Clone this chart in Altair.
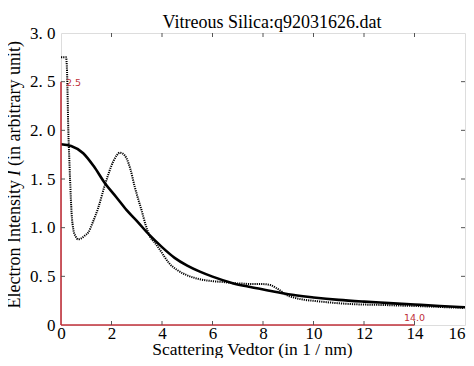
import altair as alt
import pandas as pd

# ---- data ----
solid_x = [0, 0.4, 0.88, 1.3, 1.74, 2.2, 2.6, 3.0, 3.5, 4.0, 4.5, 5.0, 5.5, 6.0, 6.8,
           7.5, 8.2, 9.0, 10, 11, 12, 13, 14, 15, 16]
solid_y = [1.857, 1.84, 1.765, 1.63, 1.456, 1.31, 1.18, 1.07, 0.925, 0.80, 0.69, 0.61,
           0.548, 0.497, 0.43, 0.39, 0.355, 0.315, 0.283, 0.258, 0.24, 0.225, 0.21, 0.195, 0.182]

dot_x = [0, 0.2, 0.24, 0.29, 0.33, 0.36, 0.42, 0.49, 0.58, 0.68, 0.8, 0.95, 1.08, 1.25,
         1.47, 1.74, 2.07, 2.2, 2.33, 2.45, 2.6, 2.75, 2.92, 3.05, 3.19, 3.35, 3.52, 3.7,
         3.9, 4.1, 4.3, 4.6, 5.0, 5.5, 6.0, 6.5, 6.8, 7.2, 7.6, 8.0, 8.3, 8.52, 8.7, 8.85,
         9.0, 9.18, 9.5, 10.1, 10.7, 11.42, 12.0, 12.73, 13.4, 14.06, 15.0, 15.97]
dot_y = [2.75, 2.75, 2.6, 2.0, 1.7, 1.49, 1.15, 0.98, 0.91, 0.88, 0.89, 0.92, 0.95, 1.05,
         1.20, 1.44, 1.68, 1.74, 1.77, 1.76, 1.71, 1.60, 1.42, 1.30, 1.18, 1.03, 0.91, 0.85,
         0.78, 0.70, 0.63, 0.565, 0.51, 0.47, 0.45, 0.44, 0.43, 0.425, 0.42, 0.42, 0.41, 0.38,
         0.35, 0.32, 0.30, 0.285, 0.265, 0.246, 0.23, 0.216, 0.21, 0.206, 0.20, 0.195, 0.185,
         0.175]

x_ticks = [0, 2, 4, 6, 8, 10, 12, 14, 16]
y_ticks = [0, 0.5, 1.0, 1.5, 2.0, 2.5, 3.0]
x_inner_ticks = [2, 4, 6, 8, 10, 12, 14]
y_inner_ticks = [0.5, 1.0, 1.5, 2.0, 2.5]

red_marker_y = 2.5
red_marker_x = 14.0

chart_title = "Vitreous Silica:q92031626.dat"
x_title = "Scattering Vedtor (in 1 / nm)"
y_title_parts = ["Electron Intensity", "I", "(in arbitrary unit)"]

# ---- styling ----
W, H = 404, 292
FONT = "Liberation Serif"
FRAME = "#555555"
RED = "#c0303a"
TFS = 18  # title font size

xs = alt.Scale(domain=[0, 16], nice=False, zero=False)
ys = alt.Scale(domain=[0, 3], nice=False, zero=False)

x_axis = alt.Axis(values=x_ticks, ticks=False, tickSize=0, domain=False, grid=False,
                  labelFont=FONT, labelFontSize=17, labelColor="black", labelPadding=0,
                  labelFlush=False, labelOverlap=False,
                  labelAlign=alt.expr("datum.value == 16 ? 'right' : 'center'"),
                  title=x_title, titleFont=FONT, titleFontSize=17.5,
                  titleFontWeight="normal", titleColor="black", titleX=191, titleY=29,
                  titleBaseline="alphabetic", titleAlign="center")
y_axis = alt.Axis(values=y_ticks, ticks=False, tickSize=0, domain=False, grid=False,
                  labelFont=FONT, labelFontSize=17, labelColor="black", labelPadding=6,
                  labelFlush=False,
                  labelExpr="datum.value == 0 ? '0' : replace(format(datum.value, '.1f'), '.', '. ')",
                  title="")

solid_df = pd.DataFrame({"x": solid_x, "y": solid_y})
dot_df = pd.DataFrame({"x": dot_x, "y": dot_y})

solid = alt.Chart(solid_df).mark_line(color="black", strokeWidth=2.6, interpolate="monotone").encode(
    x=alt.X("x:Q", scale=xs, axis=x_axis),
    y=alt.Y("y:Q", scale=ys, axis=y_axis),
)
dotted = alt.Chart(dot_df).mark_line(color="black", strokeWidth=2, strokeDash=[1.2, 1.0],
                                     interpolate="monotone").encode(
    x=alt.X("x:Q", scale=xs), y=alt.Y("y:Q", scale=ys))

# red partial axes
red_df = pd.DataFrame({"x": [0, 0], "y": [0, 0], "x2": [0, red_marker_x], "y2": [red_marker_y, 0]})
red_rules = alt.Chart(red_df).mark_rule(color=RED, strokeWidth=1.6).encode(
    x=alt.X("x:Q", scale=xs), y=alt.Y("y:Q", scale=ys), x2="x2:Q", y2="y2:Q")

red_lab1 = alt.Chart(pd.DataFrame({"x": [0], "y": [red_marker_y], "t": [f"{red_marker_y}"]})).mark_text(
    color=RED, font="DejaVu Sans", fontSize=9.5, align="left", baseline="middle", dx=5, dy=1).encode(
    x=alt.X("x:Q", scale=xs), y=alt.Y("y:Q", scale=ys), text="t:N")
red_lab2 = alt.Chart(pd.DataFrame({"x": [red_marker_x], "y": [0], "t": [f"{red_marker_x}"]})).mark_text(
    color=RED, font="DejaVu Sans", fontSize=9.5, align="center", baseline="middle", dy=-7).encode(
    x=alt.X("x:Q", scale=xs), y=alt.Y("y:Q", scale=ys), text="t:N")

# inward tick marks on all four sides
xt_df = pd.DataFrame({"x": x_inner_ticks})
yt_df = pd.DataFrame({"y": y_inner_ticks})
tick_b = alt.Chart(xt_df).mark_rule(color=FRAME, strokeWidth=1).encode(
    x=alt.X("x:Q", scale=xs), y=alt.value(H), y2=alt.value(H - 4))
tick_t = alt.Chart(xt_df).mark_rule(color=FRAME, strokeWidth=1).encode(
    x=alt.X("x:Q", scale=xs), y=alt.value(0), y2=alt.value(4))
tick_l = alt.Chart(yt_df).mark_rule(color=FRAME, strokeWidth=1).encode(
    y=alt.Y("y:Q", scale=ys), x=alt.value(0), x2=alt.value(4))
tick_r = alt.Chart(yt_df).mark_rule(color=FRAME, strokeWidth=1).encode(
    y=alt.Y("y:Q", scale=ys), x=alt.value(W), x2=alt.value(W - 4))

# chart title and y title (with italic I)
title_df = pd.DataFrame({"t": [chart_title]})
title_mark = alt.Chart(title_df).mark_text(font=FONT, fontSize=TFS, color="black",
                                           align="center", baseline="alphabetic").encode(
    x=alt.value(211), y=alt.value(-5), text="t:N")

YX = -41
yt1 = alt.Chart(pd.DataFrame({"t": [y_title_parts[0]]})).mark_text(
    font=FONT, fontSize=TFS, color="black", angle=270, align="right", baseline="alphabetic").encode(
    x=alt.value(YX), y=alt.value(147), text="t:N")
yt2 = alt.Chart(pd.DataFrame({"t": [y_title_parts[1]]})).mark_text(
    font=FONT, fontSize=TFS, fontStyle="italic", color="black", angle=270, align="center",
    baseline="alphabetic").encode(x=alt.value(YX), y=alt.value(140), text="t:N")
yt3 = alt.Chart(pd.DataFrame({"t": [y_title_parts[2]]})).mark_text(
    font=FONT, fontSize=TFS, color="black", angle=270, align="left", baseline="alphabetic").encode(
    x=alt.value(YX), y=alt.value(133), text="t:N")

chart = alt.layer(
    solid, dotted, red_rules, red_lab1, red_lab2, tick_b, tick_t, tick_l, tick_r,
    title_mark, yt1, yt2, yt3
).properties(
    width=W, height=H,
    autosize=alt.AutoSizeParams(type="none"),
    padding={"left": 53, "top": 25, "right": 1, "bottom": 33},
).configure_view(stroke=FRAME, strokeWidth=1).configure(background="white")

chart.save("out.html", embed_options={"renderer": "svg", "actions": False})
